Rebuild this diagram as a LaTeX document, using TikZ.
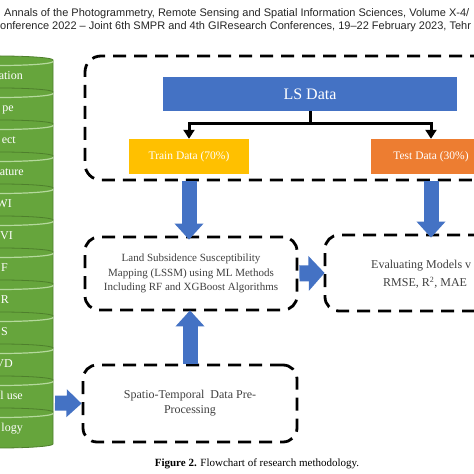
\documentclass[tikz,border=0pt]{standalone}
\usepackage{fontspec}
\setmainfont{Liberation Serif}
\newfontfamily\hdrfont{Liberation Sans}
\usetikzlibrary{arrows.meta,calc}
\definecolor{lsblue}{HTML}{4472C4}
\definecolor{trainc}{HTML}{FFC000}
\definecolor{testc}{HTML}{ED7D31}
\definecolor{cylgreen}{HTML}{66A53C}
\definecolor{cyldark}{HTML}{4E7F2C}
\definecolor{cyllight}{HTML}{B5D99C}
\definecolor{txtgray}{HTML}{404040}
\begin{document}
\begin{tikzpicture}[x=1pt,y=1pt,
  dbox/.style={draw=black, line width=2.8pt, dash pattern=on 13pt off 8pt,
    rounded corners=16pt, inner sep=0pt, text=txtgray, align=center},
  fbox/.style={inner sep=0pt, text=white},
  blockarrow/.style={draw=lsblue, line width=15pt, -{Triangle[length=16pt,width=28pt]}},
  thinarrow/.style={black, line width=3pt, -{Triangle[length=9pt,width=11pt]}},
  cyllabel/.style={text=white, inner sep=0pt, font=\fontsize{12}{14}\selectfont},
  hdr/.style={inner sep=0pt, font=\hdrfont\fontsize{11}{12}\selectfont, text=black!85}
]
\clip (0,0) rectangle (474,474);
\fill[white] (0,0) rectangle (474,474);

% header
\node[hdr, anchor=base west] (h1) at (4,474-16.5) {Annals of the Photogrammetry, Remote Sensing and Spatial Information Sciences, Volume X-4/};
\node[hdr, anchor=base west] (h2) at (0,474-29.5) {onference 2022 – Joint 6th SMPR and 4th GIResearch Conferences, 19–22 February 2023, Tehr};

% cylinder stack
\foreach \lab/\xe [count=\i from 0] in {ation/23, pe/14, ect/16, ature/24, WI/12, VI/13, F/8, R/9, S/8, VD/13, l use/23, logy/23} {
  \pgfmathsetmacro\T{474-60-32*\i}
  \pgfmathsetmacro\B{\T-32}
  \filldraw[fill=cylgreen, draw=cyldark, line width=0.8pt] (-53,\T) -- (-53,\B)
     arc[start angle=180,end angle=360,x radius=53,y radius=4] -- (53,\T)
     arc[start angle=0,end angle=180,x radius=53,y radius=4] -- cycle;
  \draw[cyllight, line width=1.2pt] (-53,\T-1.5) arc[start angle=180,end angle=360,x radius=53,y radius=4];
  \node[cyllabel, anchor=base east] at (\xe,\T-20) {\lab};
}
\coordinate (cylout) at (55,474-403);

% outer dashed frame
\node[dbox, minimum width=435, minimum height=124] (outer) at (302.5,474-118) {};

% LS data and splits
\node[fbox, fill=lsblue, minimum width=294, minimum height=34, font=\fontsize{16}{18}\selectfont] (ls) at (310,474-94) {LS Data};
\node[fbox, fill=trainc, minimum width=120, minimum height=35, font=\fontsize{11.5}{13}\selectfont] (train) at (189,474-156.5) {Train Data (70\%)};
\node[fbox, fill=testc, minimum width=120, minimum height=35, font=\fontsize{11.5}{13}\selectfont] (test) at (431,474-156.5) {Test Data (30\%)};
\coordinate (split) at ($(ls.south)+(0,-12)$);
\draw[black, line width=3pt] (ls.south) -- (split);
\draw[thinarrow] (split) -| (train.north);
\draw[thinarrow] (split) -| (test.north);

% lower boxes
\node[dbox, minimum width=212, minimum height=73, font=\fontsize{11}{14.5}\selectfont, rounded corners=14pt] (lssm) at (191,474-273.5)
  {Land Subsidence Susceptibility\\Mapping (LSSM) using ML Methods\\Including RF and XGBoost Algorithms};
\node[dbox, minimum width=212, minimum height=76, rounded corners=14pt] (eval) at (431,474-273) {};
\node[inner sep=0pt, anchor=base west, text=txtgray, font=\fontsize{12}{14}\selectfont] (ev1) at (371,474-269) {Evaluating Models v};
\node[inner sep=0pt, anchor=base west, text=txtgray, font=\fontsize{12}{14}\selectfont] (ev2) at (383,474-287) {RMSE, R\textsuperscript{2}, MAE};
\node[dbox, minimum width=214, minimum height=77, font=\fontsize{12}{15}\selectfont, rounded corners=14pt] (pre) at (190,474-403.5)
  {Spatio-Temporal\ \ Data Pre-\\Processing};

% block arrows
\draw[blockarrow, shorten <=7pt, shorten >=-4pt] (train.south) -- (train.south |- lssm.north);
\draw[blockarrow, shorten <=7pt, shorten >=-4pt] (test.south) -- (test.south |- eval.north);
\draw[blockarrow, line width=16pt, -{Triangle[length=16pt,width=34pt]}, shorten <=1pt, shorten >=-1pt] (lssm.east) -- (eval.west);
\draw[blockarrow, shorten <=0pt, shorten >=-1pt] (pre.north) -- (pre.north |- lssm.south);
\draw[blockarrow, -{Triangle[length=15pt,width=27pt]}] (cylout) -- (pre.west);

% caption
\node[inner sep=0pt, anchor=base, font=\fontsize{11}{13}\selectfont] (cap) at (257,474-466) {\textbf{Figure 2.} Flowchart of research methodology.};
\end{tikzpicture}
\end{document}
